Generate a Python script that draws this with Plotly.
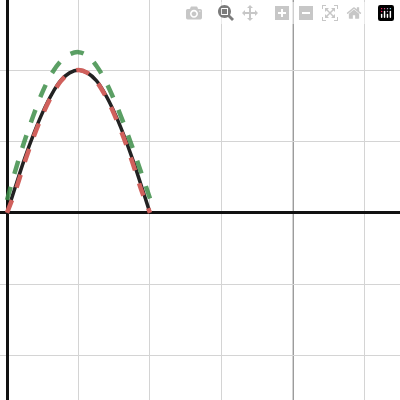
import plotly.graph_objects as go

xs = [0, 0.125, 0.25, 0.375, 0.5, 0.625, 0.75, 0.875, 1, 1.125, 1.25, 1.375, 1.5, 1.625, 1.75, 1.875, 2]
black = [0, 0.39, 0.77, 1.11, 1.41, 1.66, 1.85, 1.96, 2, 1.96, 1.85, 1.66, 1.41, 1.11, 0.77, 0.39, 0]
red = [0, 0.33, 0.72, 1.07, 1.38, 1.64, 1.84, 1.96, 2, 1.96, 1.84, 1.64, 1.38, 1.07, 0.72, 0.33, 0]
green = [0.18, 0.62, 1.02, 1.38, 1.7, 1.95, 2.12, 2.22, 2.25, 2.2, 2.06, 1.85, 1.58, 1.27, 0.93, 0.57, 0.2]

fig = go.Figure()
fig.add_trace(go.Scatter(x=xs, y=black, mode="lines", line=dict(color="#222222", width=3.5, shape="spline")))
fig.add_trace(go.Scatter(x=xs, y=red, mode="lines", line=dict(color="#d0605c", width=4.5, dash="dash", shape="spline")))
fig.add_trace(go.Scatter(x=xs, y=green, mode="lines", line=dict(color="#3f8f4a", width=4.5, dash="dash", shape="spline"), opacity=0.85))

# darker major gridline
fig.add_shape(type="line", x0=4, x1=4, y0=-3, y1=3, line=dict(color="#777777", width=1.5), layer="below")

fig.update_layout(
    width=400, height=400, margin=dict(l=0, r=0, t=0, b=0),
    plot_bgcolor="white", paper_bgcolor="white", showlegend=False,
)
fig.update_xaxes(range=[-0.098, 5.497], dtick=1, showgrid=True, gridcolor="#d4d4d4",
                 zeroline=True, zerolinecolor="#111111", zerolinewidth=2.5, showticklabels=False)
fig.update_yaxes(range=[-2.62, 2.98], dtick=1, showgrid=True, gridcolor="#d4d4d4",
                 zeroline=True, zerolinecolor="#111111", zerolinewidth=2.5, showticklabels=False)
fig.write_html("out.html", post_script="document.body.style.margin='0';")
